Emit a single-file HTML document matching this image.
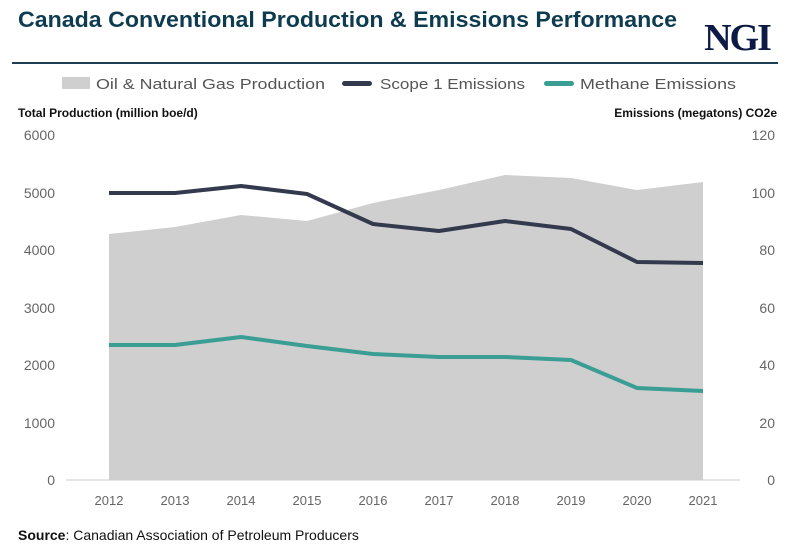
<!DOCTYPE html>
<html><head><meta charset="utf-8"><style>
body{margin:0;background:#fff;}
svg{display:block;font-family:"Liberation Sans",sans-serif;}
</style></head><body>
<svg width="800" height="551" viewBox="0 0 800 551">
<rect width="800" height="551" fill="#fff"/>
<text x="18" y="27" font-size="22" font-weight="bold" fill="#0d3b4f" textLength="659" lengthAdjust="spacingAndGlyphs">Canada Conventional Production &amp; Emissions Performance</text>
<text x="737" y="50" font-size="38" font-weight="bold" fill="#0c1a45" font-family="Liberation Serif,serif" text-anchor="middle" letter-spacing="-2">NGI</text>
<line x1="12" y1="63" x2="778" y2="63" stroke="#1d3d52" stroke-width="2"/>
<rect x="62" y="77" width="28" height="12" fill="#cfcfcf"/>
<text x="96" y="89" font-size="15" fill="#555" textLength="229" lengthAdjust="spacingAndGlyphs">Oil &amp; Natural Gas Production</text>
<rect x="342" y="81" width="30" height="5" rx="2.5" fill="#343a4d"/>
<text x="380" y="89" font-size="15" fill="#555" textLength="145" lengthAdjust="spacingAndGlyphs">Scope 1 Emissions</text>
<rect x="544" y="81" width="30" height="5" rx="2.5" fill="#3a9e94"/>
<text x="580" y="89" font-size="15" fill="#555" textLength="156" lengthAdjust="spacingAndGlyphs">Methane Emissions</text>
<text x="18" y="117" font-size="12" font-weight="bold" fill="#111">Total Production (million boe/d)</text>
<text x="777" y="117" font-size="12" font-weight="bold" fill="#111" text-anchor="end">Emissions (megatons) CO2e</text>
<g font-size="14" fill="#666">
<text x="55" y="140" text-anchor="end">6000</text>
<text x="55" y="198" text-anchor="end">5000</text>
<text x="55" y="255" text-anchor="end">4000</text>
<text x="55" y="313" text-anchor="end">3000</text>
<text x="55" y="370" text-anchor="end">2000</text>
<text x="55" y="428" text-anchor="end">1000</text>
<text x="55" y="485" text-anchor="end">0</text>
<text x="775" y="140" text-anchor="end">120</text>
<text x="775" y="198" text-anchor="end">100</text>
<text x="775" y="255" text-anchor="end">80</text>
<text x="775" y="313" text-anchor="end">60</text>
<text x="775" y="370" text-anchor="end">40</text>
<text x="775" y="428" text-anchor="end">20</text>
<text x="775" y="485" text-anchor="end">0</text>
</g>
<g font-size="13" fill="#666" text-anchor="middle">
<text x="109" y="505">2012</text><text x="175" y="505">2013</text><text x="241" y="505">2014</text><text x="307" y="505">2015</text><text x="373" y="505">2016</text><text x="439" y="505">2017</text><text x="505" y="505">2018</text><text x="571" y="505">2019</text><text x="637" y="505">2020</text><text x="703" y="505">2021</text>
</g>
<polygon fill="#cfcfcf" points="109,480 109,234 175,227 241,215 307,221 373,203 439,190 505,175 571,178 637,190 703,182 703,480"/>
<line x1="66" y1="480" x2="740" y2="480" stroke="#ccc" stroke-width="1"/>
<polyline fill="none" stroke="#343a4d" stroke-width="4" stroke-linejoin="round" points="109,193 175,193 241,186 307,194 373,224 439,231 505,221 571,229 637,262 703,263"/>
<polyline fill="none" stroke="#3a9e94" stroke-width="4" stroke-linejoin="round" points="109,345 175,345 241,337 307,346 373,354 439,357 505,357 571,360 637,388 703,391"/>
<text x="18" y="540" font-size="14" fill="#111"><tspan font-weight="bold">Source</tspan>: Canadian Association of Petroleum Producers</text>
</svg>
</body></html>
